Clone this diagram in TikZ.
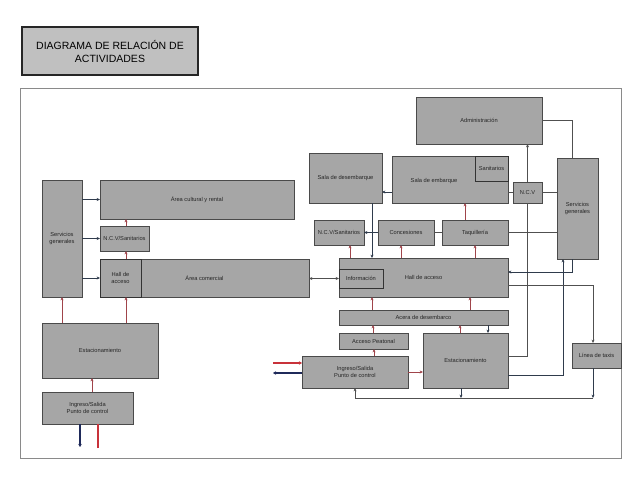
\documentclass[tikz,border=0pt]{standalone}
\usepackage{fontspec}
\setmainfont{Liberation Sans}
\usetikzlibrary{arrows.meta}
\definecolor{boxfill}{HTML}{A6A6A6}
\definecolor{boxline}{HTML}{4A4A4A}
\definecolor{redl}{HTML}{A0444A}
\definecolor{darkl}{HTML}{2F3B4C}
\definecolor{grayl}{HTML}{505050}
\definecolor{brightred}{HTML}{C8323A}
\definecolor{navyl}{HTML}{1F2A5A}
\definecolor{framel}{HTML}{8A8A8A}
\definecolor{titlefill}{HTML}{C0C0C0}
\newcommand\mybox[7][box]{\node[#1, minimum width={#5-#3}, minimum height={#6-#4}] (#2) at ({(#3+#5)/2},{(#4+#6)/2}) {#7};}
\begin{document}
\begin{tikzpicture}[x=1pt,y=-1pt,
  box/.style={draw=boxline, fill=boxfill, line width=0.6pt, inner sep=0pt, outer sep=0pt, align=center, font=\fontsize{5.7}{6.6}\selectfont, text=black!85},
  subbox/.style={box, draw=black!80, line width=0.9pt},
  lbl/.style={inner sep=0pt, align=center, font=\fontsize{5.7}{6.6}\selectfont, text=black!85},
  tip/.style={-{Stealth[length=3.4pt,width=3pt]}},
  tipb/.style={{Stealth[length=3.4pt,width=3pt]}-{Stealth[length=3.4pt,width=3pt]}},
  rarr/.style={draw=redl, line width=0.7pt, tip},
  darr/.style={draw=darkl, line width=0.7pt, tip},
  gline/.style={draw=grayl, line width=0.7pt},
  garr/.style={gline, tip},
  thickred/.style={draw=brightred, line width=2pt},
  thicknavy/.style={draw=navyl, line width=2pt},
]
\useasboundingbox (0,0) rectangle (638,479);
\fill[white] (0,0) rectangle (638,479);
% title
\node[draw=black!85, line width=1.2pt, fill=titlefill, minimum width=176, minimum height=48, inner sep=0pt, align=center,
  font=\fontsize{10.5}{13}\selectfont] (title) at (110,51) {DIAGRAMA DE RELACIÓN DE\\ACTIVIDADES};
% frame
\draw[framel, line width=1pt] (20,88) rectangle (621,458);
% left boxes
\mybox{servL}{42}{180}{82}{297}{Servicios\\generales}
\mybox{cult}{100}{180}{294}{219}{Área cultural y rental}
\mybox{ncvL}{100}{226}{149}{251}{N.C.V/Sanitarios}
\mybox{comL}{100}{259}{309}{297}{Área comercial}
\mybox[subbox]{hallL}{100}{259}{141}{297}{Hall de\\acceso}
\mybox{estL}{42}{323}{158}{378}{Estacionamiento}
\mybox{ingL}{42}{392}{133}{424}{Ingreso/Salida\\Punto de control}
% right boxes
\mybox{admin}{416}{97}{542}{144}{Administración}
\mybox{desemb}{309}{153}{382}{203}{Sala de desembarque}
\mybox{emb}{392}{156}{508}{203}{}
\node[lbl] (embt) at (434,181) {Sala de embarque};
\mybox[subbox]{sanit}{475}{156}{508}{181}{Sanitarios}
\mybox{ncv}{513}{182}{542}{203}{N.C.V}
\mybox{servR}{557}{158}{598}{259}{Servicios\\generales}
\mybox{ncvR}{314}{220}{364}{245}{N.C.V/Sanitarios}
\mybox{conc}{378}{220}{434}{245}{Concesiones}
\mybox{taq}{442}{220}{508}{245}{Taquillería}
\mybox{hallR}{339}{258}{508}{297}{Hall de acceso}
\mybox[subbox]{info}{339}{269}{383}{288}{Información}
\mybox{acera}{339}{310}{508}{325}{Acera de desembarco}
\mybox{acceso}{339}{333}{408}{349}{Acceso Peatonal}
\mybox{ingR}{302}{356}{408}{388}{Ingreso/Salida\\Punto de control}
\mybox{estR}{423}{333}{508}{388}{Estacionamiento}
\mybox{taxi}{572}{343}{621}{368}{Línea de taxis}
% left connectors
\draw[darr] (servL.east |- cult.west) -- (cult.west);
\draw[darr] (servL.east |- ncvL.west) -- (ncvL.west);
\draw[darr] (servL.east |- hallL.west) -- (hallL.west);
\draw[rarr] (ncvL.north -| 126,0) -- (cult.south -| 126,0);
\draw[rarr] (hallL.north -| 126,0) -- (ncvL.south -| 126,0);
\draw[rarr] (estL.north -| 62,0) -- (servL.south -| 62,0);
\draw[rarr] (estL.north -| 126,0) -- (hallL.south -| 126,0);
\draw[rarr] (ingL.north -| 92,0) -- (estL.south -| 92,0);
\coordinate (inLa) at (80,447);
\coordinate (inLb) at (98,448);
\draw[thicknavy, -{Stealth[length=3pt,width=3.5pt]}] (ingL.south -| inLa) -- (inLa);
\draw[thickred] (inLb) -- (ingL.south -| inLb);
% middle
\draw[gline, tipb] (comL.east |- info.west) -- (info.west);
% right connectors
\draw[darr] (emb.west |- 0,192) -- (desemb.east |- 0,192);
\draw[darr] (desemb.south -| 372,0) -- (hallR.north -| 372,0);
\draw[darr] (conc.west) -- (ncvR.east);
\draw[gline] (conc.east) -- (taq.west);
\draw[gline] (taq.east) -- (servR.west |- taq.east);
\draw[gline] (emb.east |- ncv.west) -- (ncv.west);
\draw[gline] (ncv.east) -- (servR.west |- ncv.east);
\draw[garr] (ncv.north) -- (admin.south -| ncv.north);
\draw[gline] (servR.north -| 572,0) |- (admin.east);
\draw[rarr] (taq.north -| 465,0) -- (emb.south -| 465,0);
\draw[rarr] (hallR.north -| 350,0) -- (ncvR.south -| 350,0);
\draw[rarr] (hallR.north -| 401,0) -- (conc.south -| 401,0);
\draw[rarr] (hallR.north -| 475,0) -- (taq.south -| 475,0);
\draw[rarr] (acera.north -| 372,0) -- (hallR.south -| 372,0);
\draw[rarr] (acera.north -| 470,0) -- (hallR.south -| 470,0);
\draw[rarr] (acceso.north -| 373,0) -- (acera.south -| 373,0);
\draw[rarr] (ingR.north -| 374,0) -- (acceso.south -| 374,0);
\draw[rarr] (estR.north -| 460,0) -- (acera.south -| 460,0);
\draw[darr] (acera.south -| 488,0) -- (estR.north -| 488,0);
\draw[rarr] (ingR.east |- 0,372) -- (estR.west |- 0,372);
\draw[gline] (estR.east |- 0,356) -| (ncv.south);
\draw[darr] (estR.east |- 0,375) -| (servR.south -| 563,0);
\draw[darr] (servR.south -| 572,0) |- (hallR.east |- 0,272);
\draw[garr] (hallR.east |- 0,285) -| (taxi.north -| 593,0);
\coordinate (bot) at (593,398);
\draw[darr] (taxi.south -| bot) -- (bot);
\draw[garr] (bot) -| (ingR.south -| 355,0);
\draw[darr] (estR.south -| 461,0) -- (bot -| 461,0);
\coordinate (inRa) at (273,363);
\coordinate (inRb) at (273,373);
\draw[thickred, -{Stealth[length=3pt,width=3.5pt]}] (inRa) -- (ingR.west |- inRa);
\draw[thicknavy, -{Stealth[length=3pt,width=3.5pt]}] (ingR.west |- inRb) -- (inRb);
\end{tikzpicture}
\end{document}
